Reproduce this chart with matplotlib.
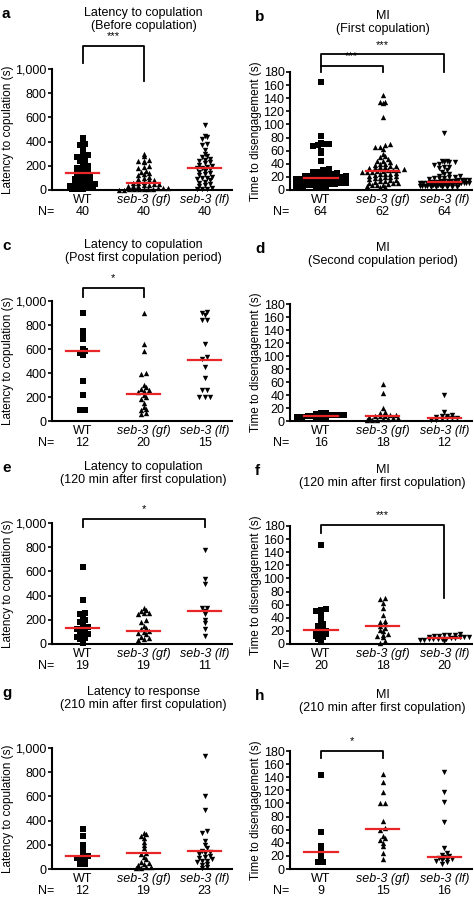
import matplotlib
matplotlib.use("Agg")
import matplotlib.pyplot as plt
import numpy as np

plt.rcParams['font.family'] = ['Liberation Sans', 'DejaVu Sans']

categories = ["WT", "seb-3 (gf)", "seb-3 (lf)"]

a_vals = [
 [430,400,380,370,330,300,290,280,270,250,240,220,200,190,180,170,160,150,140,130,120,110,100,100,90,80,70,60,60,50,50,40,40,30,30,20,20,10,10,5],
 [300,280,250,240,240,230,200,190,180,160,150,140,130,120,110,100,90,80,80,70,60,60,50,50,40,40,30,30,30,20,20,20,10,10,10,5,5,5,3,2],
 [540,450,440,420,380,370,330,300,280,270,260,250,240,230,220,210,200,190,180,180,170,160,150,140,130,120,110,100,100,90,80,70,60,50,40,30,20,10,10,5]]
b_vals = [
 [165,83,72,70,70,68,67,60,56,45,32,30,28,27,26,25,25,24,23,22,22,21,20,20,20,19,19,18,18,18,17,17,16,16,15,15,15,14,14,13,13,12,12,12,11,11,10,10,10,9,9,9,8,8,8,7,7,7,6,6,6,5,5,5],
 [145,135,135,133,112,70,68,66,65,63,55,52,50,47,45,45,42,40,40,38,37,36,35,35,34,33,32,31,30,30,29,29,28,28,27,26,25,25,24,23,22,21,20,20,19,18,17,16,15,14,13,12,11,10,10,9,8,8,7,6,5,5],
 [87,45,44,43,43,42,40,38,35,35,33,30,28,25,24,22,21,20,20,19,18,18,17,16,16,15,15,14,14,13,13,13,12,12,12,11,11,11,10,10,10,10,9,9,9,9,8,8,8,8,7,7,7,7,6,6,6,6,5,5,5,5,5,5]]
c_vals = [
 [900,750,720,680,600,580,570,550,330,220,90,90],
 [900,640,580,400,390,300,280,270,260,250,240,220,200,180,150,120,100,90,70,60],
 [910,900,880,840,840,640,530,520,450,360,260,260,200,200,200]]
d_vals = [
 [12,12,11,10,10,9,9,8,8,7,7,6,6,5,5,4],
 [57,43,20,14,12,10,10,8,8,7,6,5,4,3,3,2,2,1],
 [40,14,10,8,7,6,5,5,4,3,2,2]]
e_vals = [
 [640,365,255,250,220,200,180,160,140,130,120,100,90,80,70,60,50,40,10],
 [300,280,270,260,260,250,200,180,150,130,120,110,100,90,80,60,50,40,30],
 [780,540,500,300,300,270,250,200,170,120,70]]
f_vals = [
 [151,53,52,50,45,40,35,30,28,25,22,20,20,18,15,12,12,10,8,5],
 [70,68,62,55,45,35,33,30,28,25,22,20,15,13,12,10,5,2],
 [15,14,14,13,12,12,11,10,10,10,9,9,8,8,8,7,7,6,6,5]]
g_vals = [
 [330,270,200,150,130,110,100,90,80,60,40,40],
 [300,290,270,260,220,200,170,130,120,100,80,60,50,40,30,20,15,10,10],
 [930,600,490,310,300,230,200,170,150,140,130,120,110,100,90,80,70,70,60,40,30,20,10]]
h_vals = [
 [143,56,35,27,25,18,12,10,10],
 [145,133,118,100,100,73,62,60,50,48,45,40,35,25,15],
 [148,118,102,72,32,24,22,20,18,17,15,15,14,12,10,8]]

medians = {'a':[140,60,180],'b':[18,29,12],'c':[580,225,510],'d':[7,7,5],
           'e':[135,110,270],'f':[22,27,9],'g':[110,135,145],'h':[26,61,18]}
Ns = {'a':[40,40,40],'b':[64,62,64],'c':[12,20,15],'d':[16,18,12],
      'e':[19,19,11],'f':[20,18,20],'g':[12,19,23],'h':[9,15,16]}
titles = {'a':"Latency to copulation\n(Before copulation)",
          'b':"MI\n(First copulation)",
          'c':"Latency to copulation\n(Post first copulation period)",
          'd':"MI\n(Second copulation period)",
          'e':"Latency to copulation\n(120 min after first copulation)",
          'f':"MI\n(120 min after first copulation)",
          'g':"Latency to response\n(210 min after first copulation)",
          'h':"MI\n(210 min after first copulation)"}
brackets = {'a':[(0,1,1190,1050,900,'***')],
            'b':[(0,1,189,180,180,'***'),(0,2,207,189,180,'***')],
            'c':[(0,1,1110,1030,1030,'*')],
            'd':[],
            'e':[(0,2,1030,970,970,'*')],
            'f':[(0,2,182,170,70,'***')],
            'g':[],
            'h':[(0,1,180,170,170,'*')]}
data = {'a':a_vals,'b':b_vals,'c':c_vals,'d':d_vals,'e':e_vals,'f':f_vals,'g':g_vals,'h':h_vals}
markers = ['s','^','v']

def swarm(vals, ymax):
    vals = np.array(sorted(vals))
    bins = np.floor(vals / (ymax*0.03)).astype(int)
    xs = np.zeros(len(vals))
    for b in np.unique(bins):
        idx = np.where(bins == b)[0]
        n = len(idx)
        step = min(0.085, 0.8 / max(n-1, 1))
        xs[idx] = (np.arange(n) - (n-1)/2) * step
    return xs, vals

W, H = 474, 901
rows_px = [(69,190),(301,421),(523,644),(748,869)]
cols_px = [(52,232),(290,472)]
fig = plt.figure(figsize=(W/100, H/100), dpi=100)
letters = ['a','b','c','d','e','f','g','h']
for i, L in enumerate(letters):
    r, c = i//2, i%2
    top, bot = rows_px[r]
    if c == 1: top += 3
    x0, x1 = cols_px[c]
    ax = fig.add_axes([x0/W, 1-bot/H, (x1-x0)/W, (bot-top)/H])
    lat = (c == 0)
    ymax = 1000 if lat else 180
    for k in range(3):
        xs, vs = swarm(data[L][k], ymax)
        ax.scatter(k + xs, vs, marker=markers[k], s=15, color='black', lw=0, clip_on=False, zorder=3)
        ax.plot([k-0.27, k+0.27], [medians[L][k]]*2, color='#e8262a', lw=1.6, zorder=4)
    ax.set_xlim(-0.5, 2.45)
    ax.set_ylim(0, ymax)
    if lat:
        ax.set_yticks([0,200,400,600,800,1000])
        ax.set_yticklabels(['0','200','400','600','800','1,000'])
        ax.set_ylabel('Latency to copulation (s)', fontsize=8.5, labelpad=1)
    else:
        ax.set_yticks(range(0,181,20))
        ax.set_ylabel('Time to disengagement (s)', fontsize=8.5, labelpad=1)
    ax.set_xticks([0,1,2])
    ax.set_xticklabels(categories, fontsize=9)
    for t in ax.get_xticklabels()[1:]:
        t.set_style('italic')
    ax.tick_params(axis='x', length=0, pad=3)
    ax.tick_params(axis='y', labelsize=9, width=1.2, length=3, pad=1)
    for s in ['top','right']:
        ax.spines[s].set_visible(False)
    for s in ['left','bottom']:
        ax.spines[s].set_linewidth(1.5)
    for k in range(3):
        ax.text(k, -0.185*ymax, str(Ns[L][k]), ha='center', va='center', fontsize=9, clip_on=False)
    ax.text(-0.6 if c == 0 else -0.65, -0.185*ymax, 'N=', ha='center', va='center', fontsize=9, clip_on=False)
    for (xa, xb, yt, yl, yr, lab) in brackets[L]:
        ax.plot([xa, xa, xb, xb], [yl, yt, yt, yr], color='black', lw=1.3, clip_on=False)
        ax.text((xa+xb)/2, yt + 0.04*ymax, lab, ha='center', va='bottom', fontsize=8, clip_on=False)
    tx = x0 + (1 + 0.5) / 2.95 * (x1 - x0)
    fig.text(tx/W, 1-(top-62)/H, titles[L], ha='center', va='top', fontsize=9, linespacing=1.15)
    fig.text((x0-50 if c==0 else x0-35)/W, 1-(top-62)/H, L, fontsize=11, fontweight='bold', va='top', ha='left')

fig.savefig('out.png', dpi=100)
